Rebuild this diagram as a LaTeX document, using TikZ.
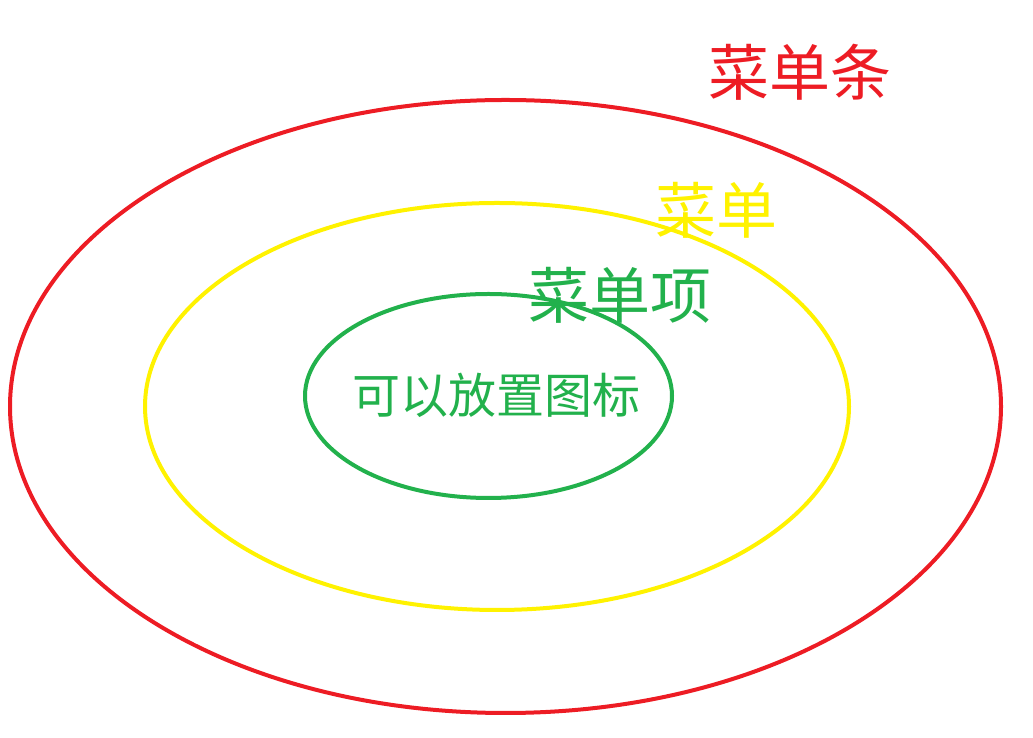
\documentclass[tikz,border=0pt]{standalone}
\usepackage{fontspec}
\newfontfamily\cjk{Noto Sans CJK SC}
\usetikzlibrary{positioning}
\definecolor{paintred}{RGB}{237,28,36}
\definecolor{paintyellow}{RGB}{255,242,0}
\definecolor{paintgreen}{RGB}{34,177,76}
\tikzstyle{ring}=[line width=4pt]
\tikzstyle{biglabel}=[font=\cjk\fontsize{61}{63}\selectfont,inner sep=0pt]
\tikzstyle{smalllabel}=[font=\cjk\fontsize{48}{50}\selectfont,inner sep=0pt]

\begin{document}
\begin{tikzpicture}[x=1pt,y=1pt]
  \useasboundingbox (0,0) rectangle (1033,738);

  % nested rings
  \foreach \pos/\rx/\ry/\col in {{(505.5,331.5)/495.5/306.5/paintred}, {(497,331.5)/352/203.5/paintyellow}, {(488.5,342)/183.5/102/paintgreen}}
    \draw[ring,\col] \pos ellipse ({\rx pt} and {\ry pt});

  % labels
  \foreach \pos/\name/\col/\label in {{(800,666)/bar/paintred/菜单条}, {(716,528)/menu/paintyellow/菜单}, {(620,443)/item/paintgreen/菜单项}}
    \node[biglabel,text=\col] (\name) at \pos {\label};
  \node[smalllabel,text=paintgreen] (icon) at (496,343) {可以放置图标};
\end{tikzpicture}
\end{document}
